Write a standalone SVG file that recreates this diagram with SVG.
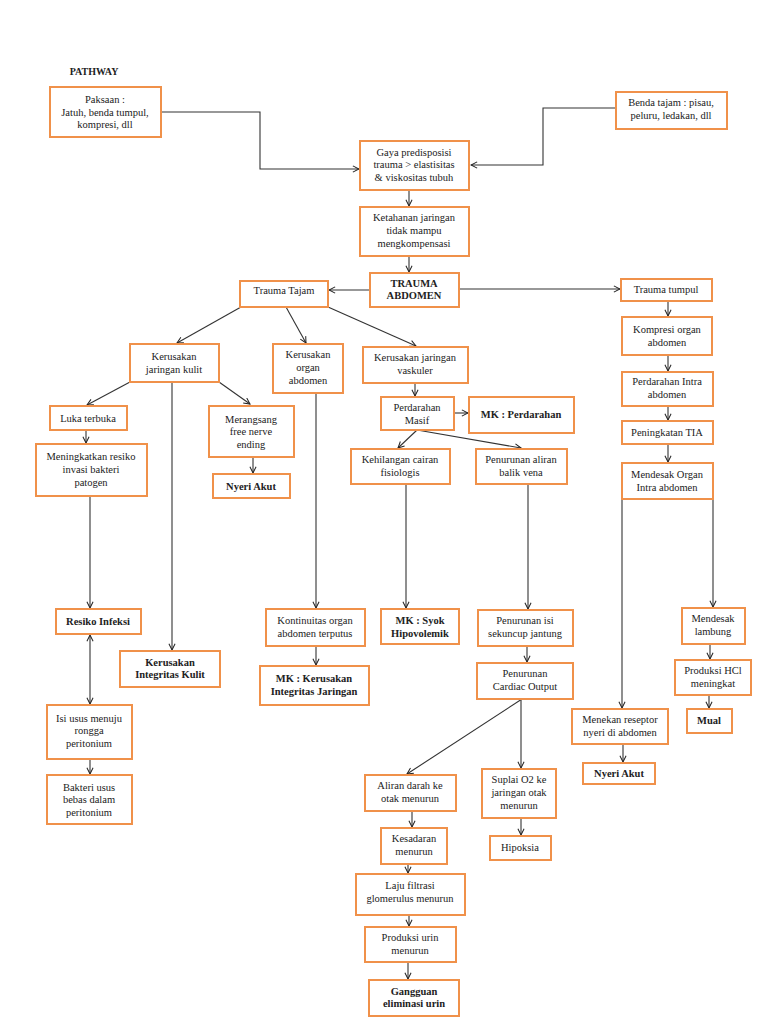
<svg xmlns="http://www.w3.org/2000/svg" width="768" height="1024" viewBox="0 0 768 1024">
<defs>
<marker id="a" viewBox="0 0 10 10" refX="9" refY="5" markerWidth="7" markerHeight="7" orient="auto-start-reverse"><path d="M1,1 L9,5 L1,9" fill="none" stroke="#222" stroke-width="1.3"/></marker>
<style>
rect{fill:#fff;stroke:#f0914a;stroke-width:2}
text{font-family:"Liberation Serif",serif;font-size:10.5px;fill:#222;text-anchor:middle}
.b{font-weight:bold}
#c path{fill:none;stroke:#333;stroke-width:1.1;marker-end:url(#a)}
</style>
</defs>
<rect x="0" y="0" width="768" height="1024" style="fill:#fff;stroke:none"/>
<text x="94" y="75" class="b" style="font-size:10px">PATHWAY</text>
<g id="c">
<path d="M161,112 H260 V169 H359"/>
<path d="M616,108 H543 V165 H471"/>
<path d="M409,190 V206"/>
<path d="M409,256 V272"/>
<path d="M370,290 H329"/>
<path d="M459,289 H620"/>
<path d="M241,307 L177,343"/>
<path d="M286,307 L306,343"/>
<path d="M328,307 L416,346"/>
<path d="M668,301 V316"/>
<path d="M668,355 V371"/>
<path d="M668,406 V420"/>
<path d="M668,444 V462"/>
<path d="M130,382 L87,405"/>
<path d="M219,382 L250,404"/>
<path d="M172,382 V650"/>
<path d="M86,430 V443"/>
<path d="M90,496 V608"/>
<path d="M90,704 V635" style="marker-start:url(#a)"/>
<path d="M90,759 V774"/>
<path d="M253,457 V473"/>
<path d="M316,393 V608"/>
<path d="M316,646 V665"/>
<path d="M415,383 V396"/>
<path d="M454,413 H468"/>
<path d="M417,430 L398,448"/>
<path d="M417,430 L521,448"/>
<path d="M406,484 V608"/>
<path d="M528,484 V609"/>
<path d="M527,646 V662"/>
<path d="M522,699 L407,774"/>
<path d="M521,699 V768"/>
<path d="M412,811 V827"/>
<path d="M408,864 V873"/>
<path d="M409,915 V926"/>
<path d="M408,962 V979"/>
<path d="M521,818 V835"/>
<path d="M622,499 V708"/>
<path d="M713,499 V607"/>
<path d="M710,644 V659"/>
<path d="M709,695 V708"/>
<path d="M623,744 V762"/>
</g>
<g id="n1"><rect x="50" y="87" width="111" height="50"/><text x="105" y="103">Paksaan :</text><text x="105" y="116">Jatuh, benda tumpul,</text><text x="105" y="128">kompresi, dll</text></g>
<g id="n2"><rect x="616" y="92" width="111" height="37"/><text x="671" y="106">Benda tajam : pisau,</text><text x="671" y="119">peluru, ledakan, dll</text></g>
<g id="n3"><rect x="360" y="141" width="109" height="49"/><text x="414" y="156">Gaya predisposisi</text><text x="414" y="168">trauma &gt; elastisitas</text><text x="414" y="181">&amp; viskositas tubuh</text></g>
<g id="n4"><rect x="360" y="207" width="109" height="49"/><text x="414" y="221">Ketahanan jaringan</text><text x="414" y="234">tidak mampu</text><text x="414" y="247">mengkompensasi</text></g>
<g id="n5"><rect x="370" y="273" width="89" height="34"/><text x="414" y="287" class="b">TRAUMA</text><text x="414" y="299" class="b">ABDOMEN</text></g>
<g id="n6"><rect x="240" y="281" width="88" height="26"/><text x="284" y="294">Trauma Tajam</text></g>
<g id="n7"><rect x="621" y="279" width="91" height="22"/><text x="666" y="293">Trauma tumpul</text></g>
<g id="n8"><rect x="130" y="344" width="89" height="38"/><text x="174" y="360">Kerusakan</text><text x="174" y="373">jaringan kulit</text></g>
<g id="n9"><rect x="273" y="344" width="70" height="49"/><text x="308" y="358">Kerusakan</text><text x="308" y="371">organ</text><text x="308" y="384">abdomen</text></g>
<g id="n10"><rect x="363" y="347" width="105" height="36"/><text x="415" y="361">Kerusakan jaringan</text><text x="415" y="374">vaskuler</text></g>
<g id="n11"><rect x="622" y="317" width="90" height="38"/><text x="667" y="333">Kompresi organ</text><text x="667" y="346">abdomen</text></g>
<g id="n12"><rect x="622" y="372" width="91" height="34"/><text x="667" y="385">Perdarahan Intra</text><text x="667" y="398">abdomen</text></g>
<g id="n13"><rect x="622" y="421" width="91" height="23"/><text x="667" y="436">Peningkatan TIA</text></g>
<g id="n14"><rect x="622" y="463" width="91" height="36"/><text x="667" y="478">Mendesak Organ</text><text x="667" y="491">Intra abdomen</text></g>
<g id="n15"><rect x="50" y="406" width="77" height="24"/><text x="88" y="422">Luka terbuka</text></g>
<g id="n16"><rect x="36" y="444" width="111" height="52"/><text x="91" y="460">Meningkatkan resiko</text><text x="91" y="473">invasi bakteri</text><text x="91" y="486">patogen</text></g>
<g id="n17"><rect x="209" y="406" width="85" height="51"/><text x="251" y="423">Merangsang</text><text x="251" y="435">free nerve</text><text x="251" y="448">ending</text></g>
<g id="n18"><rect x="213" y="474" width="77" height="24"/><text x="251" y="490" class="b">Nyeri Akut</text></g>
<g id="n19"><rect x="381" y="397" width="73" height="33"/><text x="417" y="411">Perdarahan</text><text x="417" y="424">Masif</text></g>
<g id="n20"><rect x="469" y="397" width="105" height="36"/><text x="521" y="418" class="b">MK : Perdarahan</text></g>
<g id="n21"><rect x="351" y="449" width="99" height="35"/><text x="400" y="463">Kehilangan cairan</text><text x="400" y="476">fisiologis</text></g>
<g id="n22"><rect x="476" y="449" width="91" height="35"/><text x="521" y="463">Penurunan aliran</text><text x="521" y="476">balik vena</text></g>
<g id="n23"><rect x="56" y="609" width="85" height="25"/><text x="98" y="625" class="b">Resiko Infeksi</text></g>
<g id="n24"><rect x="120" y="651" width="100" height="36"/><text x="170" y="666" class="b">Kerusakan</text><text x="170" y="678" class="b">Integritas Kulit</text></g>
<g id="n25"><rect x="266" y="609" width="99" height="37"/><text x="315" y="624">Kontinuitas organ</text><text x="315" y="637">abdomen terputus</text></g>
<g id="n26"><rect x="260" y="666" width="109" height="39"/><text x="314" y="682" class="b">MK : Kerusakan</text><text x="314" y="695" class="b">Integritas Jaringan</text></g>
<g id="n27"><rect x="381" y="609" width="78" height="35"/><text x="420" y="624" class="b">MK : Syok</text><text x="420" y="637" class="b">Hipovolemik</text></g>
<g id="n28"><rect x="478" y="610" width="95" height="36"/><text x="525" y="624">Penurunan isi</text><text x="525" y="637">sekuncup jantung</text></g>
<g id="n29"><rect x="477" y="663" width="96" height="36"/><text x="525" y="677">Penurunan</text><text x="525" y="690">Cardiac Output</text></g>
<g id="n30"><rect x="682" y="608" width="63" height="36"/><text x="713" y="622">Mendesak</text><text x="713" y="635">lambung</text></g>
<g id="n31"><rect x="675" y="660" width="76" height="35"/><text x="713" y="674">Produksi HCl</text><text x="713" y="687">meningkat</text></g>
<g id="n32"><rect x="47" y="705" width="85" height="54"/><text x="89" y="722">Isi usus menuju</text><text x="89" y="734">rongga</text><text x="89" y="747">peritonium</text></g>
<g id="n33"><rect x="47" y="775" width="85" height="49"/><text x="89" y="791">Bakteri usus</text><text x="89" y="803">bebas dalam</text><text x="89" y="816">peritonium</text></g>
<g id="n34"><rect x="365" y="775" width="91" height="36"/><text x="410" y="789">Aliran darah ke</text><text x="410" y="802">otak menurun</text></g>
<g id="n35"><rect x="482" y="769" width="74" height="49"/><text x="519" y="783">Suplai O2 ke</text><text x="519" y="796">jaringan otak</text><text x="519" y="809">menurun</text></g>
<g id="n36"><rect x="572" y="709" width="96" height="35"/><text x="620" y="723">Menekan reseptor</text><text x="620" y="736">nyeri di abdomen</text></g>
<g id="n37"><rect x="687" y="709" width="45" height="24"/><text x="709" y="724" class="b">Mual</text></g>
<g id="n38"><rect x="583" y="763" width="72" height="21"/><text x="619" y="777" class="b">Nyeri Akut</text></g>
<g id="n39"><rect x="381" y="828" width="66" height="36"/><text x="414" y="842">Kesadaran</text><text x="414" y="855">menurun</text></g>
<g id="n40"><rect x="490" y="836" width="61" height="24"/><text x="520" y="851">Hipoksia</text></g>
<g id="n41"><rect x="356" y="874" width="109" height="41"/><text x="410" y="889">Laju filtrasi</text><text x="410" y="902">glomerulus menurun</text></g>
<g id="n42"><rect x="365" y="927" width="91" height="35"/><text x="410" y="941">Produksi urin</text><text x="410" y="954">menurun</text></g>
<g id="n43"><rect x="369" y="980" width="90" height="36"/><text x="414" y="995" class="b">Gangguan</text><text x="414" y="1007" class="b">eliminasi urin</text></g>
</svg>
